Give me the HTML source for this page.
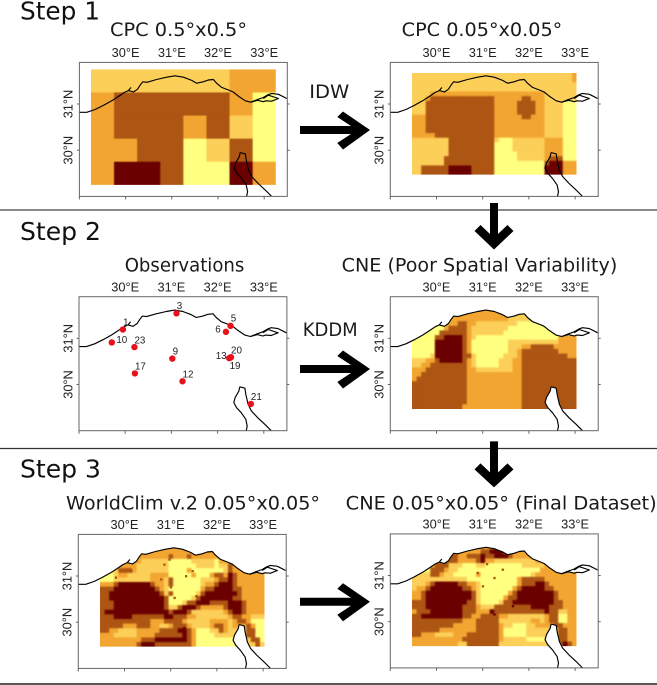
<!DOCTYPE html>
<html lang="en">
<head>
<meta charset="utf-8">
<title>Downscaling steps</title>
<style>
html,body{margin:0;padding:0;background:#fff;width:657px;height:685px;overflow:hidden}
svg{display:block}
.heading{font-family:"DejaVu Sans","Liberation Sans",sans-serif;font-size:19px;fill:#1a1a1a}
.step{font-family:"DejaVu Sans","Liberation Sans",sans-serif;font-size:25px;fill:#111}
.tick{font-family:"Liberation Sans",sans-serif;font-size:12.8px;fill:#222}
.station-label{font-family:"Liberation Sans",sans-serif;font-size:9.8px;fill:#222}
</style>
</head>
<body>
<svg id="figure" xmlns="http://www.w3.org/2000/svg" width="657" height="685" viewBox="0 0 657 685">
  <defs>
    <filter id="soft-fine" x="-5%" y="-5%" width="110%" height="110%" color-interpolation-filters="sRGB">
      <feGaussianBlur in="SourceGraphic" stdDeviation="0.85" result="b"/>
      <feMerge><feMergeNode in="SourceGraphic"/><feMergeNode in="b"/></feMerge>
    </filter>
    <filter id="soft-coarse" x="-5%" y="-5%" width="110%" height="110%" color-interpolation-filters="sRGB">
      <feGaussianBlur in="SourceGraphic" stdDeviation="0.4" result="b"/>
      <feMerge><feMergeNode in="SourceGraphic"/><feMergeNode in="b"/></feMerge>
    </filter>
  </defs>
  <rect x="0" y="0" width="657" height="685" fill="#fff"/>
  <g id="maps"></g>

  <line x1="0" y1="210" x2="657" y2="210" stroke="#444" stroke-width="1.3"/>
  <line x1="0" y1="448.5" x2="657" y2="448.5" stroke="#333" stroke-width="1.3"/>
  <line x1="0" y1="684" x2="657" y2="684" stroke="#222" stroke-width="1.6"/>

  <text class="step" x="20" y="19.3" textLength="80" lengthAdjust="spacingAndGlyphs">Step 1</text>
  <text class="step" x="20" y="240" textLength="81" lengthAdjust="spacingAndGlyphs">Step 2</text>
  <text class="step" x="20" y="477.3" textLength="81" lengthAdjust="spacingAndGlyphs">Step 3</text>

  <text class="heading" x="110" y="36" textLength="137" lengthAdjust="spacingAndGlyphs">CPC 0.5°x0.5°</text>
  <text class="heading" x="401.7" y="36" textLength="160.6" lengthAdjust="spacingAndGlyphs">CPC 0.05°x0.05°</text>
  <text class="heading" x="124.7" y="271.7" textLength="119.6" lengthAdjust="spacingAndGlyphs">Observations</text>
  <text class="heading" x="341.7" y="271.7" textLength="275.6" lengthAdjust="spacingAndGlyphs">CNE (Poor Spatial Variability)</text>
  <text class="heading" x="66" y="509.3" textLength="254" lengthAdjust="spacingAndGlyphs">WorldClim v.2 0.05°x0.05°</text>
  <text class="heading" x="345.7" y="509.3" textLength="311" lengthAdjust="spacingAndGlyphs">CNE 0.05°x0.05° (Final Dataset)</text>

  <text class="heading" x="309.3" y="98" textLength="40" lengthAdjust="spacingAndGlyphs">IDW</text>
  <text class="heading" x="302.7" y="336" textLength="55" lengthAdjust="spacingAndGlyphs">KDDM</text>

  <polygon transform="translate(0,130)" points="300,-4 351,-4 337.3,-13 343,-18.5 370,0 343,19.5 337.3,13 351,4 300,4" fill="#000"/>
  <polygon transform="translate(0,369)" points="300,-4 351,-4 337.3,-13 343,-18.5 370,0 343,19.5 337.3,13 351,4 300,4" fill="#000"/>
  <polygon transform="translate(0,601.7)" points="300,-4 351,-4 337.3,-13 343,-18.5 370,0 343,19.5 337.3,13 351,4 300,4" fill="#000"/>
  <polygon points="490,203 498,203 498,234 507.5,225 513.5,231 494,249.5 474.5,231 480.5,225 490,234" fill="#000"/>
  <polygon transform="translate(0,238.4)" points="490,203 498,203 498,234 507.5,225 513.5,231 494,249 474.5,231 480.5,225 490,234" fill="#000"/>
</svg>

<script>
// ---- axis tick values ----
const lonTicks = [30, 31, 32, 33];
const latTicks = [31, 30];
const lonTickLabels = ['30°E', '31°E', '32°E', '33°E'];
const latTickLabels = ['31°N', '30°N'];

// ---- precipitation class colours (0 = driest yellow, 4 = dark red) ----
const classColors = ['#FFFF80', '#FCCF58', '#F2A631', '#AD5513', '#6B0000'];

// ---- coastline (longitude / latitude) ----
const coastLon = [29.00,29.16,29.34,29.52,29.70,29.84,29.97,30.06,30.11,30.06,30.17,30.26,30.31,30.37,30.46,30.67,30.89,31.07,31.25,31.43,31.54,31.68,31.79,31.90,31.97,32.08,32.26,32.33,32.44,32.59,32.71,32.84,32.98,33.08,33.16,33.31,33.49];
const coastLat = [30.82,30.82,30.88,30.97,31.07,31.16,31.25,31.29,31.35,31.29,31.26,31.32,31.40,31.48,31.47,31.53,31.58,31.61,31.58,31.51,31.45,31.48,31.52,31.53,31.45,31.36,31.29,31.26,31.17,31.07,31.04,31.09,31.14,31.20,31.23,31.21,31.12];
const lagoonLon = [32.71,32.86,32.98,33.04,33.16,33.31,33.09,32.98];
const lagoonLat = [31.04,31.08,31.05,31.07,31.06,31.12,31.19,31.12];
const gulfWestLon = [32.48,32.46,32.38,32.35,32.41,32.51,32.61,32.64,32.62];
const gulfWestLat = [29.95,29.86,29.72,29.61,29.50,29.39,29.25,29.10,29.00];
const gulfEastLon = [32.48,32.59,32.61,32.66,32.73,32.87,33.02,33.16];
const gulfEastLat = [29.95,29.92,29.79,29.57,29.43,29.28,29.14,29.00];

// ---- stations ----
const stationIds = ['1','3','5','6','9','10','12','13','17','19','20','21','23'];
const stationLon = [29.95,31.11,32.28,32.18,31.02,29.71,31.24,32.25,30.21,32.27,32.29,32.72,30.20];
const stationLat = [31.19,31.54,31.27,31.14,30.56,30.91,30.07,30.57,30.24,30.58,30.59,29.58,30.81];
const stationLabelSide = ['n','n','n','w','n','e','ne','w','ne','se','ne','ne','ne'];

// ---- small isolated high-value cells ----
const worldClimSpeckLon = [29.79,30.12,30.77,30.98,31.31,31.45,31.06,31.53,30.84,30.95,32.07,31.27];
const worldClimSpeckLat = [30.99,31.13,30.95,30.78,31.02,31.13,30.55,30.59,31.27,31.38,30.95,29.90];
const worldClimSpeckClass = [3,3,3,3,3,3,3,3,3,3,3,4];
const cneFinalSpeckLon = [30.98,31.07,30.87,31.41,31.23,30.98,32.02,31.23,31.09,31.63];
const cneFinalSpeckLat = [31.37,31.27,31.08,31.15,30.97,30.79,30.96,30.18,29.56,30.36];
const cneFinalSpeckClass = [4,3,3,3,3,3,3,4,3,4];

// ---- gridded class values, each row stored as value,count,value,count… ----
const cpcCoarse = [
  [1,6,2,2],
  [2,1,3,5,2,1,0,1],
  [2,1,3,3,2,1,3,1,1,1,0,1],
  [2,2,3,2,0,1,1,1,3,1,0,1],
  [2,1,4,2,3,1,0,2,4,1,2,1]
];
const cpcFine = [
  [1,35,2,1],
  [1,35,2,1],
  [1,36],
  [1,36],
  [1,4,2,25,1,7],
  [1,3,2,1,3,14,2,6,3,2,2,3,1,7],
  [1,3,3,15,2,5,3,4,2,2,1,4,0,3],
  [1,3,3,15,2,5,3,4,2,2,1,4,0,3],
  [1,3,3,15,2,5,3,4,2,2,1,4,0,3],
  [2,3,3,15,2,6,3,2,2,3,1,4,0,3],
  [2,3,3,15,2,11,1,4,0,3],
  [2,3,3,15,2,11,1,4,0,3],
  [2,3,3,15,2,11,1,4,0,3],
  [2,5,3,13,2,11,1,4,0,3],
  [1,8,3,10,1,1,0,3,1,7,2,4,0,3],
  [1,8,3,10,0,4,1,7,2,4,0,3],
  [1,8,3,10,0,4,1,7,2,4,0,3],
  [1,8,3,10,0,5,1,6,2,4,0,3],
  [1,7,3,11,0,5,1,6,2,1,3,3,0,3],
  [1,7,3,11,0,11,3,1,4,3,2,3],
  [1,2,3,6,4,5,3,5,0,11,4,4,2,3],
  [1,2,3,6,4,5,3,5,0,11,4,4,2,3]
];
const cnePoor = [
  [2,21,1,15],
  [2,21,1,15],
  [2,21,1,7,0,8],
  [0,7,2,3,3,2,2,2,1,9,0,13],
  [0,7,2,1,3,4,2,1,1,8,0,15],
  [0,6,3,6,2,1,1,7,0,16],
  [0,5,3,2,4,4,3,1,2,1,1,1,0,18,2,4],
  [0,5,4,6,3,1,2,1,0,8,1,11,2,4],
  [0,5,4,6,3,1,2,1,0,8,1,3,2,2,3,5,2,5],
  [0,5,4,6,3,1,2,1,0,8,1,2,2,1,3,8,2,4],
  [0,4,1,1,4,6,3,2,1,1,0,6,1,3,2,1,3,10,2,2],
  [1,3,2,2,3,1,4,5,3,1,2,1,1,1,0,5,1,3,2,2,3,12],
  [1,2,2,2,3,8,2,1,1,1,0,5,1,3,2,2,3,12],
  [2,3,3,9,2,2,1,8,2,2,3,12],
  [2,2,3,10,2,12,3,12],
  [2,1,3,11,2,12,3,12],
  [3,12,2,12,3,12],
  [3,12,2,12,3,12],
  [3,12,2,12,3,12],
  [3,12,2,12,3,12],
  [3,12,2,12,3,12],
  [3,11,2,13,3,12]
];
const worldClim = [
  [2,36],
  [2,25,1,11],
  [2,15,3,1,2,3,3,1,2,8,1,8],
  [2,9,1,6,0,5,1,5,0,1,2,10],
  [2,8,1,7,0,6,1,4,0,1,1,2,3,1,2,7],
  [1,4,3,3,2,1,1,7,0,4,2,1,0,7,1,1,3,1,2,7],
  [0,3,1,1,2,2,1,5,2,4,0,5,2,1,0,3,2,1,3,2,2,1,4,1,3,1,2,6],
  [0,3,1,8,2,3,1,1,3,1,0,6,1,3,2,1,3,2,4,1,3,1,2,6],
  [2,3,3,1,4,7,3,1,2,2,1,1,3,1,0,6,1,1,2,2,3,1,4,3,3,1,2,6],
  [3,3,4,9,3,1,2,1,1,1,0,7,2,1,3,2,4,4,3,2,2,5],
  [3,2,4,11,3,1,1,1,3,1,0,5,1,1,3,1,4,7,3,1,2,5],
  [3,2,4,12,3,1,0,5,1,1,3,1,4,7,3,2,2,5],
  [3,3,4,11,3,1,0,3,1,1,3,2,4,3,3,4,4,3,3,1,2,4],
  [3,3,4,11,3,1,1,2,3,1,4,3,3,1,2,5,3,1,4,3,3,1,2,4],
  [3,1,4,14,3,1,4,3,3,1,1,7,2,1,3,1,4,2,3,1,2,4],
  [3,3,4,4,3,7,4,2,3,3,2,2,1,7,2,1,3,2,2,2,1,3],
  [3,11,2,3,3,4,2,1,1,5,2,4,1,1,2,1,3,2,2,1,0,3],
  [3,5,2,3,3,3,2,2,1,2,2,1,3,3,2,1,1,4,2,1,3,2,2,1,1,1,2,3,3,1,2,1,0,2],
  [3,2,2,2,1,4,2,5,3,4,4,2,3,1,2,1,0,3,1,2,3,1,2,1,1,4,3,2,0,2],
  [2,3,1,5,2,4,3,6,4,1,3,1,2,1,0,4,1,7,3,2,0,2],
  [2,9,3,3,4,7,3,1,2,1,0,11,1,1,3,2,0,1],
  [2,8,3,1,4,3,3,8,2,1,0,11,1,2,3,1,1,1]
];
const cneFinal = [
  [2,36],
  [2,15,3,2,4,3,2,16],
  [3,10,2,2,3,3,4,1,3,2,4,3,3,1,2,6,1,8],
  [2,7,3,3,2,4,3,1,4,1,2,2,1,9,2,9],
  [2,5,3,3,1,3,0,3,1,2,0,8,1,5,2,7],
  [0,4,3,3,2,1,1,2,0,18,2,8],
  [1,4,3,2,2,1,1,2,0,5,2,1,0,11,1,1,2,9],
  [1,12,0,11,2,1,3,5,2,7],
  [1,3,2,1,3,1,4,5,3,2,2,2,1,1,0,8,2,1,3,3,4,2,3,1,2,6],
  [1,1,2,2,3,1,4,7,3,2,2,1,1,1,0,7,2,1,3,1,4,5,3,2,2,5],
  [2,2,3,1,4,10,3,1,1,1,0,6,2,1,3,1,4,8,3,1,2,4],
  [2,2,3,1,4,10,3,1,1,1,0,5,2,1,3,2,4,8,3,1,2,4],
  [3,3,4,9,3,2,1,1,0,4,1,1,3,2,4,9,3,2,2,3],
  [3,3,4,8,3,3,2,1,1,3,3,8,4,4,3,3,2,3],
  [2,1,3,3,4,7,3,3,2,3,4,1,3,11,4,1,3,2,1,2,2,2],
  [3,2,4,9,3,2,2,2,3,4,2,2,1,8,2,1,3,2,0,2,2,2],
  [3,11,2,3,3,5,1,7,2,2,1,1,2,1,3,2,0,2,2,2],
  [3,9,2,5,3,5,2,1,1,2,0,3,1,2,2,4,3,2,2,3],
  [3,6,2,8,3,5,2,1,0,5,1,7,3,2,2,2],
  [3,2,2,3,1,4,2,3,3,7,2,1,0,5,1,7,3,2,2,2],
  [2,11,3,8,2,1,1,5,0,4,1,3,3,2,2,2],
  [2,10,1,2,3,7,1,13,3,1,4,1,3,1,2,1]
];

const NS = 'http://www.w3.org/2000/svg';
const PX_PER_DEG = 46.2;
const LON_MIN = 29, LON_MAX = 33.5, LAT_MIN = 29, LAT_MAX = 31.9;
const SPECK_DEG = 0.05;

function xAxis(panel, lon) { return panel.left + (lon - LON_MIN) * PX_PER_DEG; }
function yAxis(panel, lat) { return panel.y31 + (31 - lat) * PX_PER_DEG; }

function make(tag, parent, attrs) {
  const el = document.createElementNS(NS, tag);
  for (const k in attrs) el.setAttribute(k, attrs[k]);
  parent.appendChild(el);
  return el;
}

function pathFrom(panel, lons, lats) {
  return lons.map((lon, i) => (i ? 'L' : 'M') + xAxis(panel, lon).toFixed(1) + ' ' + yAxis(panel, lats[i]).toFixed(1)).join(' ');
}

function classColor(v) {
  const i = Math.max(0, Math.min(classColors.length - 1, Math.round(v)));
  return classColors[i];
}

function landClipPath(panel) {
  const lons = coastLon.slice(0, 31).concat([32.84, 32.98, LON_MAX, LON_MAX], gulfEastLon.slice().reverse(), gulfWestLon.slice(1), [LON_MIN]);
  const lats = coastLat.slice(0, 31).concat([31.06, 31.07, 31.07, LAT_MIN], gulfEastLat.slice().reverse(), gulfWestLat.slice(1), [LAT_MIN]);
  return pathFrom(panel, lons, lats) + ' Z';
}

function drawRaster(group, panel, runs, extent, clipId, boundsId) {
  const bounds = make('g', group, { 'clip-path': 'url(#' + boundsId + ')' });
  
  
  const outer = make('g', bounds, clipId ? { 'clip-path': 'url(#' + clipId + ')' } : {});
  
  
  const g = make('g', outer, { filter: 'url(#' + panel.soft + ')' });
  
  
  const nRows = runs.length;
  const dLat = (extent.latMax - extent.latMin) / nRows;
  runs.forEach((row, r) => {
    const values = [];
    for (let i = 0; i < row.length; i += 2) {
      for (let n = 0; n < row[i + 1]; n++) values.push(row[i]);
    }
    const dLon = (extent.lonMax - extent.lonMin) / extent.cols;
    values.forEach((v, c) => {
      const lon = extent.lonMin + c * dLon;
      const lat = extent.latMax - r * dLat;
      const cell = make('rect', g, {
        x: xAxis(panel, lon).toFixed(2),
        y: yAxis(panel, lat).toFixed(2),
        width: (dLon * PX_PER_DEG + 0.35).toFixed(2),
        height: (dLat * PX_PER_DEG + 0.35).toFixed(2),
        fill: classColor(v)
      });
      
      
    });
  });
  if (panel.speckLon) {
    panel.speckLon.forEach((lon, i) => {
      const speck = make('rect', outer, {
        x: xAxis(panel, lon).toFixed(2),
        y: yAxis(panel, panel.speckLat[i]).toFixed(2),
        width: (SPECK_DEG * PX_PER_DEG).toFixed(2),
        height: (SPECK_DEG * PX_PER_DEG).toFixed(2),
        fill: classColor(panel.speckClass[i])
      });
      
      
    });
  }
}

function drawFrame(group, panel) {
  const x0 = xAxis(panel, LON_MIN), x1 = xAxis(panel, LON_MAX);
  const y0 = yAxis(panel, LAT_MAX), y1 = yAxis(panel, LAT_MIN);
  const frame = make('rect', group, { x: x0, y: y0, width: x1 - x0, height: y1 - y0, fill: 'none', stroke: '#666', 'stroke-width': 1 });
  
  

  [LON_MIN].concat(lonTicks).forEach(lon => {
    const t = make('line', group, { x1: xAxis(panel, lon), x2: xAxis(panel, lon), y1: y1, y2: y1 + 3, stroke: '#666', 'stroke-width': 1 });
    
    
  });
  lonTicks.forEach((lon, i) => {
    const label = make('text', group, { x: xAxis(panel, lon), y: y0 - 5.2, 'text-anchor': 'middle', class: 'tick' });
    label.textContent = lonTickLabels[i];
    
    
  });
  latTicks.forEach((lat, i) => {
    const y = yAxis(panel, lat);
    const tl = make('line', group, { x1: x0 - 2.5, x2: x0, y1: y, y2: y, stroke: '#666', 'stroke-width': 1 });
    
    
    const tr = make('line', group, { x1: x1, x2: x1 + 2.5, y1: y, y2: y, stroke: '#666', 'stroke-width': 1 });
    
    
    const lx = x0 - 6.7;
    const label = make('text', group, { x: lx, y: y, 'text-anchor': 'middle', class: 'tick', transform: 'rotate(-90 ' + lx + ' ' + y + ')' });
    label.textContent = latTickLabels[i];
    
    
  });
}

function drawCoast(group, panel) {
  const lines = [[coastLon, coastLat], [lagoonLon, lagoonLat], [gulfWestLon, gulfWestLat], [gulfEastLon, gulfEastLat]];
  const g = make('g', group, {});
  
  
  lines.forEach(pair => {
    const p = make('path', g, { d: pathFrom(panel, pair[0], pair[1]), fill: 'none', stroke: '#000', 'stroke-width': 1.15, 'stroke-linejoin': 'round' });
    
    
  });
}

function drawStations(group, panel) {
  const sideDx = { n: 3, ne: 5.5, e: 10, w: -8, se: 5 };
  const sideDy = { n: -4.2, ne: -3.8, e: 0.3, w: 0.8, se: 11.3 };
  stationIds.forEach((id, i) => {
    const x = xAxis(panel, stationLon[i]);
    const y = yAxis(panel, stationLat[i]);
    const dot = make('circle', group, { cx: x, cy: y, r: 3.2, fill: '#E8101A' });
    
    
    const side = stationLabelSide[i];
    const label = make('text', group, { x: x + sideDx[side], y: y + sideDy[side], 'text-anchor': 'middle', class: 'station-label' });
    label.textContent = id;
    
    
  });
}

const coarseExtent = { lonMin: 29.25, lonMax: 33.25, latMin: 29.25, latMax: 31.75, cols: 8 };
const fineExtent = { lonMin: 29.47, lonMax: 33.03, latMin: 29.47, latMax: 31.67, cols: 36 };

const panels = [
  { name: 'cpc-coarse-map', left: 79.4, y31: 104, grid: cpcCoarse, extent: coarseExtent, clip: false, soft: 'soft-coarse' },
  { name: 'cpc-fine-map', left: 390.3, y31: 104, grid: cpcFine, extent: fineExtent, clip: false, soft: 'soft-fine' },
  { name: 'observations-map', left: 79, y31: 338.3, grid: null, extent: null, clip: false, stations: true },
  { name: 'cne-poor-map', left: 390.3, y31: 338.3, grid: cnePoor, extent: fineExtent, clip: true, soft: 'soft-fine' },
  { name: 'worldclim-map', left: 78.3, y31: 576, grid: worldClim, extent: fineExtent, clip: true, soft: 'soft-fine',
    speckLon: worldClimSpeckLon, speckLat: worldClimSpeckLat, speckClass: worldClimSpeckClass },
  { name: 'cne-final-map', left: 390.3, y31: 575.5, grid: cneFinal, extent: fineExtent, clip: true, soft: 'soft-fine',
    speckLon: cneFinalSpeckLon, speckLat: cneFinalSpeckLat, speckClass: cneFinalSpeckClass }
];

const root = document.getElementById('maps');
const defs = make('defs', root, {});
panels.forEach(panel => {
  const g = make('g', root, {});
  
  
  let clipId = null;
  if (panel.clip) {
    clipId = panel.name + '-land';
    const cp = make('clipPath', defs, { id: clipId });
    make('path', cp, { d: landClipPath(panel) });
  }
  if (panel.grid) {
    const boundsId = panel.name + '-bounds';
    const bp = make('clipPath', defs, { id: boundsId });
    make('rect', bp, {
      x: xAxis(panel, panel.extent.lonMin),
      y: yAxis(panel, panel.extent.latMax),
      width: (panel.extent.lonMax - panel.extent.lonMin) * PX_PER_DEG,
      height: (panel.extent.latMax - panel.extent.latMin) * PX_PER_DEG
    });
    drawRaster(g, panel, panel.grid, panel.extent, clipId, boundsId);
  }
  drawCoast(g, panel);
  if (panel.stations) drawStations(g, panel);
  drawFrame(g, panel);
});
</script>
</body>
</html>
